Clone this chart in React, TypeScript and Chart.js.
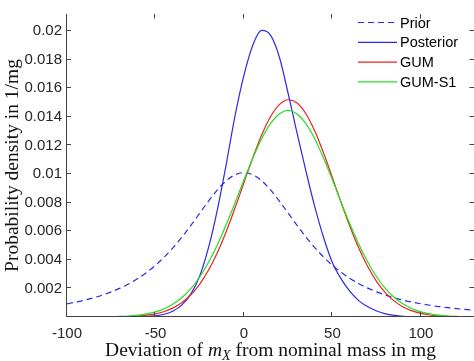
import React, { useEffect, useRef } from 'react';
import { Chart, registerables } from 'chart.js';

Chart.register(...registerables);

// x grid of the curves (deviation in mg)
const xValues = [
  -100, -95, -90, -85, -80, -75, -70, -65, -60, -55, -50, -45, -40, -35, -30, -25,
  -20, -15, -10, -5, 0, 5, 10, 15, 20, 25, 30, 35, 40, 45, 50, 55, 60, 65, 70, 75,
  80, 85, 90, 95, 100, 105, 110, 115, 120, 125, 130,
];

const prior = [
  0.000923, 0.001042, 0.001181, 0.001343, 0.001533, 0.001756, 0.002019, 0.002328, 0.002692, 0.003119,
  0.003619, 0.004198, 0.004859, 0.005602, 0.006413, 0.007265, 0.008114, 0.008895, 0.009532, 0.009953,
  0.0101, 0.009953, 0.009532, 0.008895, 0.008114, 0.007265, 0.006413, 0.005602, 0.004859, 0.004198,
  0.003619, 0.003119, 0.002692, 0.002328, 0.002019, 0.001756, 0.001533, 0.001343, 0.001181, 0.001042,
  0.000923, 0.00082, 0.000732, 0.000655, 0.000588, 0.000529, 0.000478,
];

const posterior = [
  0, 0, 0, 0, 0.0000001, 0.0000004, 0.0000012, 0.0000039, 0.0000116, 0.000031,
  0.00008, 0.00019, 0.00042, 0.00085, 0.00162, 0.00287, 0.00487, 0.00752, 0.0107, 0.0141,
  0.01692, 0.01902, 0.02005, 0.01972, 0.01819, 0.01562, 0.01287, 0.01022, 0.00772, 0.00556,
  0.0038, 0.00265, 0.00177, 0.00113, 0.00071, 0.00042, 0.00022, 0.00011, 0.00005, 0.00002,
  0.00001, 0, 0, 0, 0, 0, 0,
];

const gum = [
  0, 0, 0.000001, 0.000002, 0.000004, 0.0000087, 0.000018, 0.0000355, 0.000068, 0.000126,
  0.000224, 0.000385, 0.000637, 0.001014, 0.001558, 0.002304, 0.003288, 0.004519, 0.005986, 0.00764,
  0.009397, 0.01114, 0.01273, 0.01401, 0.01486, 0.0152, 0.01497, 0.01422, 0.01301, 0.01147,
  0.00975, 0.00798, 0.0063, 0.00479, 0.00351, 0.00248, 0.00169, 0.00111, 0.0007, 0.000427,
  0.000251, 0.000142, 0.000077, 0.000041, 0.000021, 0.00001, 0.000005,
];

const gumS1 = [
  0.0000005, 0.0000011, 0.0000025, 0.0000051, 0.0000104, 0.0000204, 0.0000386, 0.0000708, 0.000126, 0.000216,
  0.00036, 0.00058, 0.000903, 0.00136, 0.00198, 0.0028, 0.00383, 0.00506, 0.00647, 0.008,
  0.00959, 0.01111, 0.01247, 0.01353, 0.01421, 0.01445, 0.01421, 0.01353, 0.01247, 0.01111,
  0.00959, 0.008, 0.00647, 0.00506, 0.00383, 0.0028, 0.00198, 0.00136, 0.000903, 0.00058,
  0.00036, 0.000216, 0.000126, 0.0000708, 0.0000386, 0.0000204, 0.0000104,
];

const seriesLabels = ['Prior', 'Posterior', 'GUM', 'GUM-S1'];
const xTicks = [-100, -50, 0, 50, 100];
const yTicks = [0.002, 0.004, 0.006, 0.008, 0.01, 0.012, 0.014, 0.016, 0.018, 0.02];
const xRange = [-100, 130];
const yRange = [0, 0.0212];

const xTitleParts = ['Deviation of ', 'm', 'X', ' from nominal mass in mg'];
const yTitle = 'Probability density in 1/mg';

const BLUE = '#2a2ae8';
const RED = '#ee2020';
const GREEN = '#22e022';
const AXIS = '#404040';
const TEXT = '#262626';
const SANS = '"Liberation Sans", Arial, Helvetica, sans-serif';
const SERIF = '"Liberation Serif", "Times New Roman", serif';

const decorPlugin = {
  id: 'decor',
  afterDraw(chart: any) {
    const { ctx, chartArea: a, scales } = chart;
    const xs = scales.x;
    const ys = scales.y;
    ctx.save();
    // axis lines
    ctx.strokeStyle = AXIS;
    ctx.lineWidth = 1;
    ctx.beginPath();
    ctx.moveTo(a.left - 0.5, a.top);
    ctx.lineTo(a.left - 0.5, a.bottom - 0.5);
    ctx.lineTo(a.right, a.bottom - 0.5);
    ctx.stroke();
    // inward tick marks on all four sides
    const tl = 4.5;
    ctx.beginPath();
    xTicks.forEach((v) => {
      const px = Math.round(xs.getPixelForValue(v)) - 0.5;
      ctx.moveTo(px, a.bottom - 0.5);
      ctx.lineTo(px, a.bottom - 0.5 - tl);
      ctx.moveTo(px, a.top);
      ctx.lineTo(px, a.top + tl);
    });
    yTicks.forEach((v) => {
      const py = Math.round(ys.getPixelForValue(v)) - 0.5;
      ctx.moveTo(a.left - 0.5, py);
      ctx.lineTo(a.left - 0.5 + tl, py);
      ctx.moveTo(a.right, py);
      ctx.lineTo(a.right - tl, py);
    });
    ctx.stroke();

    // legend
    const ds = chart.data.datasets;
    const lx0 = 358;
    const lx1 = 397;
    ctx.font = `14.5px ${SANS}`;
    ctx.textAlign = 'left';
    ctx.textBaseline = 'alphabetic';
    ds.forEach((d: any, i: number) => {
      const ly = 22.5 + i * 19.8;
      ctx.strokeStyle = d.borderColor;
      ctx.lineWidth = d.borderWidth;
      ctx.setLineDash(d.borderDash || []);
      ctx.beginPath();
      ctx.moveTo(lx0, ly);
      ctx.lineTo(lx1, ly);
      ctx.stroke();
      ctx.setLineDash([]);
      ctx.fillStyle = '#000';
      ctx.fillText(d.label, lx1 + 3, ly + 5);
    });

    // x title with italic m and subscript X
    ctx.fillStyle = '#111';
    const fN = `19.5px ${SERIF}`;
    const fI = `italic 19.5px ${SERIF}`;
    const fS = `italic 14px ${SERIF}`;
    const parts = [
      { t: xTitleParts[0], f: fN, dy: 0 },
      { t: xTitleParts[1], f: fI, dy: 0 },
      { t: xTitleParts[2], f: fS, dy: 3.5 },
      { t: xTitleParts[3], f: fN, dy: 0 },
    ];
    let total = 0;
    parts.forEach((p) => {
      ctx.font = p.f;
      total += ctx.measureText(p.t).width;
    });
    let x = (a.left + a.right) / 2 - total / 2;
    const base = 356;
    parts.forEach((p) => {
      ctx.font = p.f;
      ctx.fillText(p.t, x, base + p.dy);
      x += ctx.measureText(p.t).width;
    });

    // y title
    ctx.save();
    ctx.translate(17.5, (a.top + a.bottom) / 2);
    ctx.rotate(-Math.PI / 2);
    ctx.font = fN;
    ctx.textAlign = 'center';
    ctx.fillText(yTitle, 0, 0);
    ctx.restore();

    ctx.restore();
  },
};

export default function App() {
  const ref = useRef<HTMLCanvasElement>(null);
  useEffect(() => {
    if (!ref.current) return;
    const mk = (vals: number[]) => xValues.map((x, i) => ({ x, y: vals[i] }));
    const chart = new Chart(ref.current, {
      type: 'line',
      data: {
        datasets: [
          { label: seriesLabels[0], data: mk(prior), borderColor: BLUE, borderWidth: 1.2, borderDash: [6, 4], order: 4 },
          { label: seriesLabels[1], data: mk(posterior), borderColor: BLUE, borderWidth: 1.2, order: 3 },
          { label: seriesLabels[2], data: mk(gum), borderColor: RED, borderWidth: 1.2, order: 2 },
          { label: seriesLabels[3], data: mk(gumS1), borderColor: GREEN, borderWidth: 1.2, order: 1 },
        ] as any,
      },
      options: {
        animation: false,
        responsive: false,
        devicePixelRatio: 1,
        layout: { padding: 0 },
        elements: {
          point: { radius: 0, hoverRadius: 0 },
          line: { cubicInterpolationMode: 'monotone', fill: false },
        },
        plugins: {
          legend: { display: false },
          tooltip: { enabled: false },
          title: { display: false },
        },
        scales: {
          x: {
            type: 'linear',
            min: xRange[0],
            max: xRange[1],
            grid: { display: false, drawTicks: false },
            border: { display: false },
            afterBuildTicks: (s: any) => {
              s.ticks = xTicks.map((v) => ({ value: v }));
            },
            afterFit: (s: any) => {
              s.height = 44;
            },
            ticks: {
              autoSkip: false,
              maxRotation: 0,
              padding: 8,
              color: TEXT,
              font: { family: SANS, size: 15 },
              callback: (v: any) => String(v),
            },
          },
          y: {
            type: 'linear',
            min: yRange[0],
            max: yRange[1],
            grid: { display: false, drawTicks: false },
            border: { display: false },
            afterBuildTicks: (s: any) => {
              s.ticks = yTicks.map((v) => ({ value: v }));
            },
            afterFit: (s: any) => {
              s.width = 67;
            },
            ticks: {
              autoSkip: false,
              padding: 5,
              color: TEXT,
              font: { family: SANS, size: 15 },
              callback: (v: any) => String(Number(Number(v).toFixed(4))),
            },
          },
        },
      } as any,
      plugins: [decorPlugin],
    });
    return () => chart.destroy();
  }, []);
  return (
    <div style={{ position: 'fixed', left: 0, top: 0, width: 474, height: 361, background: '#fff' }}>
      <canvas ref={ref} width={474} height={361} style={{ display: 'block' }} />
    </div>
  );
}
